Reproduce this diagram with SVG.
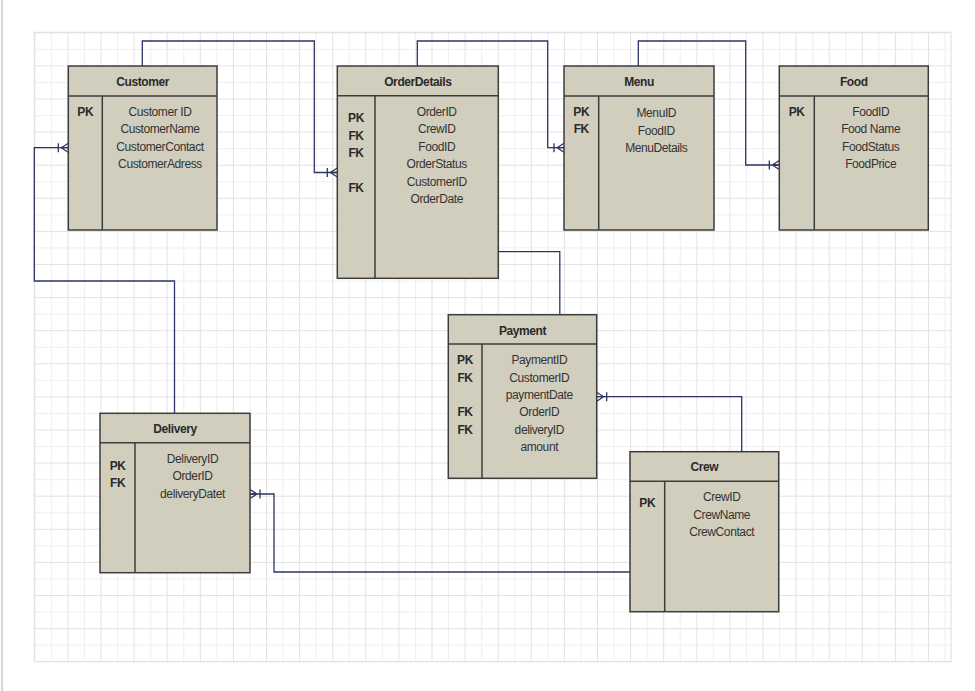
<svg xmlns="http://www.w3.org/2000/svg" width="975" height="691" viewBox="0 0 975 691">
<defs>
<pattern id="grid" patternUnits="userSpaceOnUse" x="34.3" y="32.3" width="33.1" height="33.1">
<rect x="0" y="0" width="33.1" height="33.1" fill="#ffffff"/>
<rect x="16.55" y="0" width="1" height="33.1" fill="#efefef"/>
<rect x="0" y="16.55" width="33.1" height="1" fill="#efefef"/>
<rect x="0" y="0" width="1" height="33.1" fill="#e2e2e2"/>
<rect x="0" y="0" width="33.1" height="1" fill="#e2e2e2"/>
</pattern>
<marker id="crow" markerUnits="userSpaceOnUse" viewBox="-13 -7 15 14" refX="0" refY="0" markerWidth="15" markerHeight="14" orient="auto" overflow="visible">
<path d="M-7,0 L0,-4.5 M-7,0 L0,0 M-7,0 L0,4.5 M-10,-4.5 L-10,4.5" fill="none" stroke="#2e3566" stroke-width="1.3"/>
</marker>
</defs>
<style>
.box{fill:#d1cebd;stroke:#3c3c3c;stroke-width:1.5}
.sep{stroke:#3c3c3c;stroke-width:1.5;fill:none}
.title{font-family:"Liberation Sans",Arial,sans-serif;font-size:12px;font-weight:bold;fill:#2a2a2a;text-anchor:middle;letter-spacing:-0.4px}
.key{font-family:"Liberation Sans",Arial,sans-serif;font-size:12px;font-weight:bold;fill:#2a2a2a;text-anchor:middle;letter-spacing:-0.4px}
.fld{font-family:"Liberation Sans",Arial,sans-serif;font-size:12px;fill:#333333;text-anchor:middle;letter-spacing:-0.4px}
.conn{fill:none;stroke:#2e3566;stroke-width:1.3}
</style>
<rect x="0" y="0" width="975" height="691" fill="#ffffff"/>
<line x1="2" y1="0" x2="2" y2="691" stroke="#c8c8c8" stroke-width="1.5"/>
<rect x="34.3" y="32.3" width="916.7" height="629.4" fill="url(#grid)" stroke="#dedede" stroke-width="1"/>

<g id="connectors">
<path class="conn" d="M142.3,66 V41 H314.3 V172.5 H337.3" marker-end="url(#crow)"/>
<path class="conn" d="M417.3,66 V41 H547.7 V147.7 H564" marker-end="url(#crow)"/>
<path class="conn" d="M638.3,66 V41 H745.7 V165 H779.3" marker-end="url(#crow)"/>
<path class="conn" d="M174.5,413.3 V281 H34.3 V147.7 H68.3" marker-end="url(#crow)"/>
<path class="conn" d="M498.3,251.7 H559.8 V314.7"/>
<path class="conn" d="M741.7,451.7 V396.7 H596.7" marker-end="url(#crow)"/>
<path class="conn" d="M630,572 H274 V494 H250" marker-end="url(#crow)"/>
</g>

<g id="Customer">
<rect class="box" x="68.3" y="66" width="148.7" height="164"/>
<path class="sep" d="M68.3,96 H217 M102.3,96 V230"/>
<text class="title" x="142.6" y="86">Customer</text>
<text class="key" x="85.3" y="115.7">PK</text>
<text class="fld" x="160" y="115.7">Customer ID</text>
<text class="fld" x="160" y="133">CustomerName</text>
<text class="fld" x="160" y="150.7">CustomerContact</text>
<text class="fld" x="160" y="168">CustomerAdress</text>
</g>

<g id="OrderDetails">
<rect class="box" x="337.3" y="66" width="161" height="212.3"/>
<path class="sep" d="M337.3,95.7 H498.3 M375,95.7 V278.3"/>
<text class="title" x="417.8" y="86">OrderDetails</text>
<text class="key" x="356" y="122.3">PK</text>
<text class="key" x="356" y="139.7">FK</text>
<text class="key" x="356" y="157">FK</text>
<text class="key" x="356" y="192.3">FK</text>
<text class="fld" x="436.7" y="115.7">OrderID</text>
<text class="fld" x="436.7" y="133">CrewID</text>
<text class="fld" x="436.7" y="150.7">FoodID</text>
<text class="fld" x="436.7" y="168">OrderStatus</text>
<text class="fld" x="436.7" y="185.7">CustomerID</text>
<text class="fld" x="436.7" y="203">OrderDate</text>
</g>

<g id="Menu">
<rect class="box" x="564" y="66" width="150" height="164"/>
<path class="sep" d="M564,96 H714 M598.7,96 V230"/>
<text class="title" x="639" y="86">Menu</text>
<text class="key" x="581.3" y="115.7">PK</text>
<text class="key" x="581.3" y="133">FK</text>
<text class="fld" x="656.3" y="117.3">MenuID</text>
<text class="fld" x="656.3" y="134.7">FoodID</text>
<text class="fld" x="656.3" y="152.3">MenuDetails</text>
</g>

<g id="Food">
<rect class="box" x="779.3" y="66" width="149" height="164"/>
<path class="sep" d="M779.3,96 H928.3 M814.3,96 V230"/>
<text class="title" x="853.8" y="86">Food</text>
<text class="key" x="796.7" y="115.7">PK</text>
<text class="fld" x="870.7" y="115.7">FoodID</text>
<text class="fld" x="870.7" y="133">Food Name</text>
<text class="fld" x="870.7" y="150.7">FoodStatus</text>
<text class="fld" x="870.7" y="168">FoodPrice</text>
</g>

<g id="Payment">
<rect class="box" x="448.3" y="314.7" width="148.4" height="163.6"/>
<path class="sep" d="M448.3,344 H596.7 M482,344 V478.3"/>
<text class="title" x="522.5" y="334.7">Payment</text>
<text class="key" x="465" y="364">PK</text>
<text class="key" x="465" y="381.7">FK</text>
<text class="key" x="465" y="416.3">FK</text>
<text class="key" x="465" y="434">FK</text>
<text class="fld" x="539.3" y="364">PaymentID</text>
<text class="fld" x="539.3" y="381.7">CustomerID</text>
<text class="fld" x="539.3" y="399.3">paymentDate</text>
<text class="fld" x="539.3" y="416.3">OrderID</text>
<text class="fld" x="539.3" y="434">deliveryID</text>
<text class="fld" x="539.3" y="451">amount</text>
</g>

<g id="Delivery">
<rect class="box" x="100" y="413.3" width="150" height="159.4"/>
<path class="sep" d="M100,442.7 H250 M135,442.7 V572.7"/>
<text class="title" x="175" y="433.3">Delivery</text>
<text class="key" x="117.7" y="469.7">PK</text>
<text class="key" x="117.7" y="486.7">FK</text>
<text class="fld" x="192.5" y="462.7">DeliveryID</text>
<text class="fld" x="192.5" y="480.3">OrderID</text>
<text class="fld" x="192.5" y="498">deliveryDatet</text>
</g>

<g id="Crew">
<rect class="box" x="630" y="451.7" width="148.7" height="160"/>
<path class="sep" d="M630,481.3 H778.7 M664.7,481.3 V611.7"/>
<text class="title" x="704.3" y="470.7">Crew</text>
<text class="key" x="647.3" y="507.3">PK</text>
<text class="fld" x="721.7" y="501.3">CrewID</text>
<text class="fld" x="721.7" y="518.7">CrewName</text>
<text class="fld" x="721.7" y="536">CrewContact</text>
</g>
</svg>
